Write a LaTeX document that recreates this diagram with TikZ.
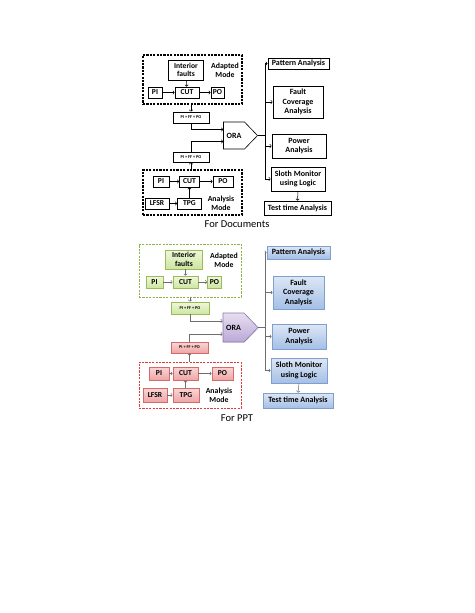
\documentclass[tikz,border=0pt]{standalone}
\usepackage{fontspec}
\setmainfont{Carlito}
\usetikzlibrary{arrows.meta,shapes.symbols,shadows}
\definecolor{gbord}{HTML}{9BBB59}
\definecolor{gtop}{HTML}{EEF7DC}
\definecolor{gbot}{HTML}{CDE6A0}
\definecolor{rbord}{HTML}{D46A6A}
\definecolor{rtop}{HTML}{F9D6D6}
\definecolor{rbot}{HTML}{EFA5A5}
\definecolor{bbord}{HTML}{7F9FCF}
\definecolor{btop}{HTML}{DDE7F5}
\definecolor{bbot}{HTML}{A4BFE6}
\definecolor{vbord}{HTML}{8C77AE}
\definecolor{vtop}{HTML}{E6DFF0}
\definecolor{vbot}{HTML}{BBA8D6}
\definecolor{gline}{HTML}{6E6E6E}
\definecolor{rdash}{HTML}{E03A3A}
\definecolor{gdash}{HTML}{8DB347}
\tikzset{
  bx/.style={draw, line width=0.6pt, inner sep=0pt, align=center,
    font=\bfseries\fontsize{7.6}{8.6}\selectfont},
  rbx/.style={bx, font=\bfseries\fontsize{8}{9.6}\selectfont},
  tinybx/.style={bx, font=\bfseries\fontsize{4.3}{5}\selectfont},
  lbl/.style={inner sep=0pt, align=center, font=\bfseries\fontsize{7.8}{9}\selectfont},
  captxt/.style={inner sep=0pt, font=\fontsize{10.5}{12}\selectfont},
  arr/.style={-{Straight Barb[length=1.6pt,width=3.4pt]}, line width=0.5pt},
  ln/.style={line width=0.5pt},
  modebox/.style={draw, line width=1.1pt, dash pattern=on 2.2pt off 1.2pt, inner sep=0pt},
  ora/.style={signal, signal to=east, signal pointer angle=92, draw, line width=0.6pt,
    inner sep=0pt, font=\bfseries\fontsize{8}{9}\selectfont},
  shd/.style={drop shadow={opacity=0.25, shadow xshift=0.7pt, shadow yshift=-0.7pt}},
  gfill/.style={draw=gbord, top color=gtop, bottom color=gbot, shd},
  rfill/.style={draw=rbord, top color=rtop, bottom color=rbot, shd},
  bfill/.style={draw=bbord, top color=btop, bottom color=bbot, shd},
  vfill/.style={draw=vbord, top color=vtop, bottom color=vbot, shd},
  garr/.style={arr, draw=gline},
  gln/.style={ln, draw=gline},
}
\newcommand\mybox[7]{\node[#1, minimum width=#5pt, minimum height=#6pt] (#2) at (#3,#4) {#7};}
\begin{document}
\begin{tikzpicture}[x=1pt,y=-1pt]
\fill[white] (0,0) rectangle (474,613);
\useasboundingbox (0,0) rectangle (474,613);

% ================= For Documents =================
\mybox{modebox}{mA}{192.5}{79.5}{99}{49}{}
\mybox{bx}{intA}{186}{70}{35}{20}{Interior\\faults}
\node[lbl] (adA) at (225,70) {Adapted\\Mode};
\mybox{bx}{piA}{155}{92.5}{14}{11}{PI}
\mybox{bx}{cutA}{187}{92.5}{24}{11}{CUT}
\mybox{bx}{poA}{217.5}{92.5}{13}{11}{PO}
\mybox{tinybx}{pfA}{191}{117.5}{36}{11}{PI + FF + PO}
\mybox{ora}{oraA}{234}{135.5}{34}{27}{ORA}
\mybox{tinybx}{pfB}{191}{157}{36}{10}{PI + FF + PO}
\mybox{modebox}{mB}{192.5}{192.5}{99}{45}{}
\mybox{bx}{piB}{161}{181.5}{16}{11}{PI}
\mybox{bx}{cutB}{189.5}{181.5}{20}{11}{CUT}
\mybox{bx}{poB}{223}{181.5}{20}{11}{PO}
\mybox{bx}{lfB}{157}{203.5}{24}{11}{LFSR}
\mybox{bx}{tpB}{189.5}{203.5}{24}{11}{TPG}
\node[lbl] (anB) at (221,203) {Analysis\\Mode};
\node[captxt] (capA) at (237,224) {For Documents};

\mybox{rbx}{patA}{298.5}{63.5}{61}{11}{Pattern Analysis}
\mybox{rbx}{fcA}{298}{102}{50}{32}{Fault\\Coverage\\Analysis}
\mybox{rbx}{pwA}{299}{146}{54}{24}{Power\\Analysis}
\mybox{rbx}{slA}{298}{179}{54}{24}{Sloth Monitor\\using Logic}
\mybox{rbx}{ttA}{297.5}{208}{67}{14}{Test time Analysis}

\draw[arr] (intA) -- (cutA);
\draw[arr] (piA) -- (cutA);
\draw[arr] (cutA) -- (poA);
\draw[arr] (pfA.north |- mA.south) -- (pfA.north);
\draw[arr] (pfA.south) |- ([yshift=6pt]oraA.west);
\draw[arr] (pfB.north |- mB.north) -- (pfB.south);
\draw[arr] (pfB.north) |- ([yshift=-6pt]oraA.west);
\draw[arr] (piB) -- (cutB);
\draw[arr] (cutB) -- (poB);
\draw[arr] (lfB) -- (tpB);
\draw[arr] (tpB) -- (cutB);
\draw[ln] (oraA.east) -- ++(7,0) coordinate (jA);
\draw[ln] (jA |- patA.west) -- (jA |- slA.west);
\draw[arr] (jA |- patA.west) -- (patA.west);
\draw[arr] (jA |- fcA.west) -- (fcA.west);
\draw[arr] (jA |- pwA.west) -- (pwA.west);
\draw[arr] (jA |- slA.west) -- (slA.west);
\draw[arr] (slA.south) -- (ttA.north);

% ================= For PPT =================
\mybox{modebox, draw=gdash, line width=0.8pt}{mC}{190}{270.5}{102}{53}{}
\mybox{bx, gfill}{intC}{184}{259.5}{37}{19}{Interior\\faults}
\node[lbl] (adC) at (224,260) {Adapted\\Mode};
\mybox{bx, gfill}{piC}{154.5}{282}{17}{12}{PI}
\mybox{bx, gfill}{cutC}{185.5}{282}{25}{12}{CUT}
\mybox{bx, gfill}{poC}{214.5}{282}{14}{12}{PO}
\mybox{tinybx, gfill}{pfC}{190}{308}{38}{12}{PI + FF + PO}
\mybox{ora, vfill}{oraC}{233.5}{327.5}{35}{29}{ORA}
\mybox{tinybx, rfill}{pfD}{189.5}{347.5}{37}{11}{PI + FF + PO}
\mybox{modebox, draw=rdash, line width=0.8pt}{mD}{190}{385}{102}{46}{}
\mybox{bx, rfill}{piD}{159}{373.5}{20}{13}{PI}
\mybox{bx, rfill}{cutD}{185.5}{373.5}{25}{13}{CUT}
\mybox{bx, rfill}{poD}{222.5}{373.5}{21}{13}{PO}
\mybox{bx, rfill}{lfD}{155}{395}{24}{14}{LFSR}
\mybox{bx, rfill}{tpD}{186}{395}{26}{14}{TPG}
\node[lbl] (anD) at (219,395) {Analysis\\Mode};
\node[captxt] (capC) at (237,418) {For PPT};

\mybox{rbx, bfill}{patC}{298.5}{252.5}{63}{13}{Pattern Analysis}
\mybox{rbx, bfill}{fcC}{298.5}{292.5}{51}{33}{Fault\\Coverage\\Analysis}
\mybox{rbx, bfill}{pwC}{299}{336.5}{54}{25}{Power\\Analysis}
\mybox{rbx, bfill}{slC}{299}{370.5}{56}{25}{Sloth Monitor\\using Logic}
\mybox{rbx, bfill}{ttC}{298}{400.5}{70}{15}{Test time Analysis}

\draw[garr] (intC.south -| cutC.north) -- (cutC.north);
\draw[garr] (piC) -- (cutC);
\draw[garr] (cutC) -- (poC);
\draw[garr] (pfC.north |- mC.south) -- (pfC.north);
\draw[garr] (pfC.south) |- ([yshift=6.5pt]oraC.west);
\draw[garr] (pfD.north |- mD.north) -- (pfD.south);
\draw[garr] (pfD.north) |- ([yshift=-6.5pt]oraC.west);
\draw[garr] (piD) -- (cutD);
\draw[garr] (cutD) -- (poD);
\draw[garr] (lfD) -- (tpD);
\draw[garr] (tpD.north -| cutD.south) -- (cutD.south);
\draw[gln] (oraC.east) -- ++(6.5,0) coordinate (jC);
\draw[gln] (jC |- patC.west) -- (jC |- slC.west);
\draw[garr] (jC |- patC.west) -- (patC.west);
\draw[garr] (jC |- fcC.west) -- (fcC.west);
\draw[garr] (jC |- pwC.west) -- (pwC.west);
\draw[garr] (jC |- slC.west) -- (slC.west);
\draw[garr] (slC.south) -- (ttC.north);
\end{tikzpicture}
\end{document}
